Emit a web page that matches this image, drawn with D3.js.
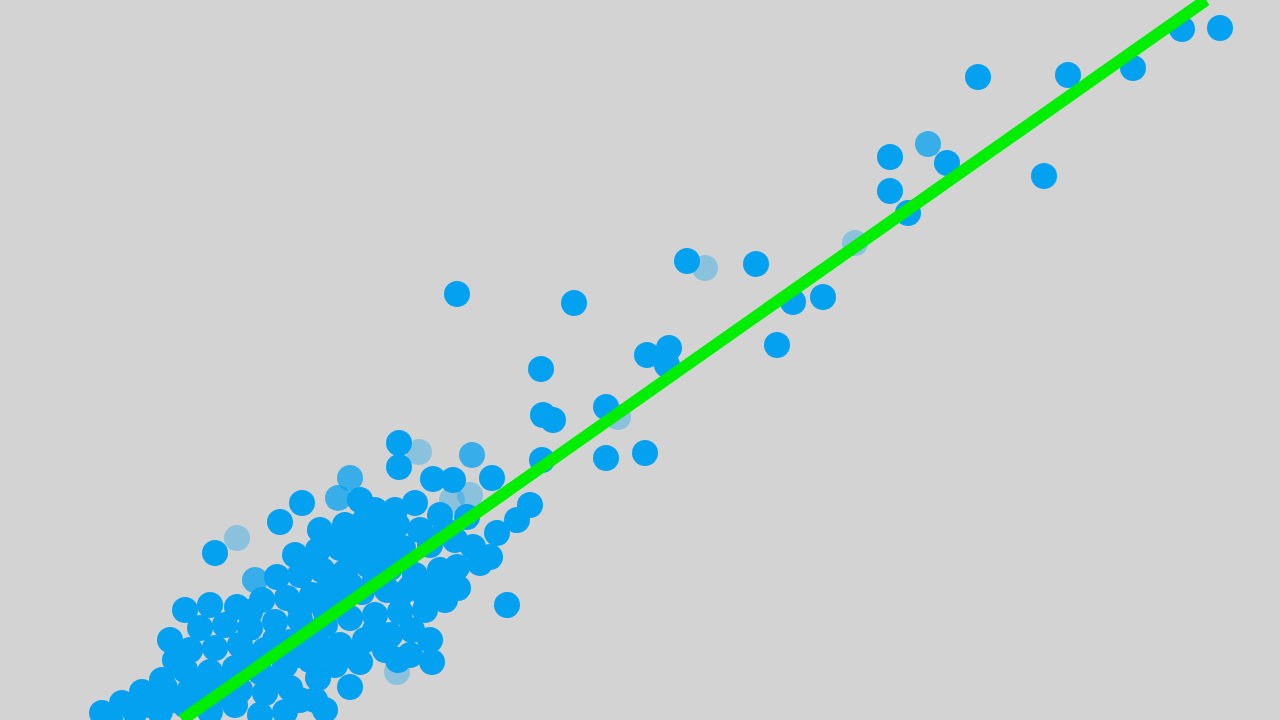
<!DOCTYPE html>
<html>
<head>
<meta charset="utf-8">
<script src="https://cdn.jsdelivr.net/npm/d3@7"></script>
<style>
html,body{margin:0;padding:0;background:#d3d3d3;overflow:hidden;}
svg{display:block;}
</style>
</head>
<body>
<svg id="chart" width="1280" height="720"></svg>
<script>
// Observations (x, y) and depth (0 = front, 2 = far / faded)
const xValues = [
1220,1182,1133,1068,978,1044,890,890,928,947,908,855,
457,574,687,705,756,793,823,777,541,647,669,667,543,553,606,618,606,645,542,
399,419,399,472,433,453,492,415,452,470,467,530,517,497,473,490,385,403,457,458,507,480,
350,302,338,360,280,237,215,377,255,277,430,432,397,350,185,170,102,122,142,162,237,
110,135,160,185,210,235,260,285,300,
165,190,215,240,265,290,318,
185,210,235,260,285,310,335,360,385,410,
190,215,240,265,290,315,340,365,390,412,
200,225,250,275,300,325,350,375,400,425,445,
210,262,287,312,337,362,387,410,435,
300,322,345,368,390,415,440,
295,318,340,362,385,430,
320,345,365,397,445,
175,200,225,250,275,300,325,350,375,398,275,250,
300,325,350,375,400,425,330,310,355,380,405,420,330,350,375,395,440,455,
150,175,200,225,315,325
];
const yValues = [
692,691,652,645,643,544,563,529,576,557,507,477,
426,417,459,452,456,418,423,375,351,365,372,355,305,300,313,303,262,267,260,
277,268,253,265,241,240,242,217,220,225,203,215,200,187,173,163,193,172,153,132,115,157,
242,217,222,220,198,182,167,190,140,143,80,58,48,33,110,80,7,17,28,40,113,
2,8,8,15,8,15,5,8,20,
32,30,25,30,27,32,42,
50,48,52,48,55,60,55,58,70,65,
70,72,75,70,78,80,75,80,85,90,
92,95,92,98,100,95,102,105,108,110,120,
115,120,122,125,120,128,130,132,135,
145,150,148,155,152,145,150,
165,170,172,175,180,175,
190,195,200,195,190,
60,35,40,60,40,65,70,65,90,60,80,108,
112,110,135,140,125,125,135,155,162,165,160,190,180,182,210,210,205,180,
15,20,20,25,20,10
];
const depthValues = [
0,0,0,0,0,0,0,0,1,0,0,2,
0,0,0,2,0,0,0,0,0,0,0,0,0,0,0,2,0,0,0,
0,2,0,1,0,0,0,0,2,2,0,0,0,0,0,0,0,0,0,0,0,0,
1,0,1,0,0,2,0,0,1,0,0,0,2,0,0,0,0,0,0,0,0,
0,0,0,0,0,0,0,0,0,
0,0,0,0,0,0,0,
0,0,0,0,0,0,0,0,0,0,
0,0,0,0,0,0,0,0,0,0,
0,0,0,0,0,0,0,0,0,0,0,
0,0,0,0,0,0,0,0,0,
0,0,0,0,0,0,0,
0,0,0,0,0,0,
0,0,0,0,0,
0,0,0,0,0,0,0,0,0,0,0,0,
0,0,0,0,0,0,0,0,0,0,0,0,0,0,0,0,0,0,
0,0,0,0,0,0
];
// Fitted regression line end points
const fitX = [182, 1206];
const fitY = [0, 720];

const W = 1280, H = 720;
const svg = d3.select("#chart");
const x = d3.scaleLinear().domain([0, 1280]).range([0, W]);
const y = d3.scaleLinear().domain([0, 720]).range([H, 0]);
const opacity = d3.scaleLinear().domain([0, 1, 2]).range([1, 0.75, 0.35]);

svg.append("rect").attr("width", W).attr("height", H).attr("fill", "#d3d3d3");

const pts = xValues.map((v, i) => ({x: v, y: yValues[i], d: depthValues[i]}))
  .sort((a, b) => b.d - a.d);

svg.append("g").selectAll("circle").data(pts).join("circle")
  .attr("cx", d => x(d.x))
  .attr("cy", d => y(d.y))
  .attr("r", 13)
  .attr("fill", "#03a1f0")
  .attr("fill-opacity", d => opacity(d.d));

const line = d3.line().x(d => x(d[0])).y(d => y(d[1]));
svg.append("path")
  .datum(fitX.map((v, i) => [v, fitY[i]]))
  .attr("d", line)
  .attr("fill", "none")
  .attr("stroke", "#00ee00")
  .attr("stroke-width", 12);
</script>
</body>
</html>
